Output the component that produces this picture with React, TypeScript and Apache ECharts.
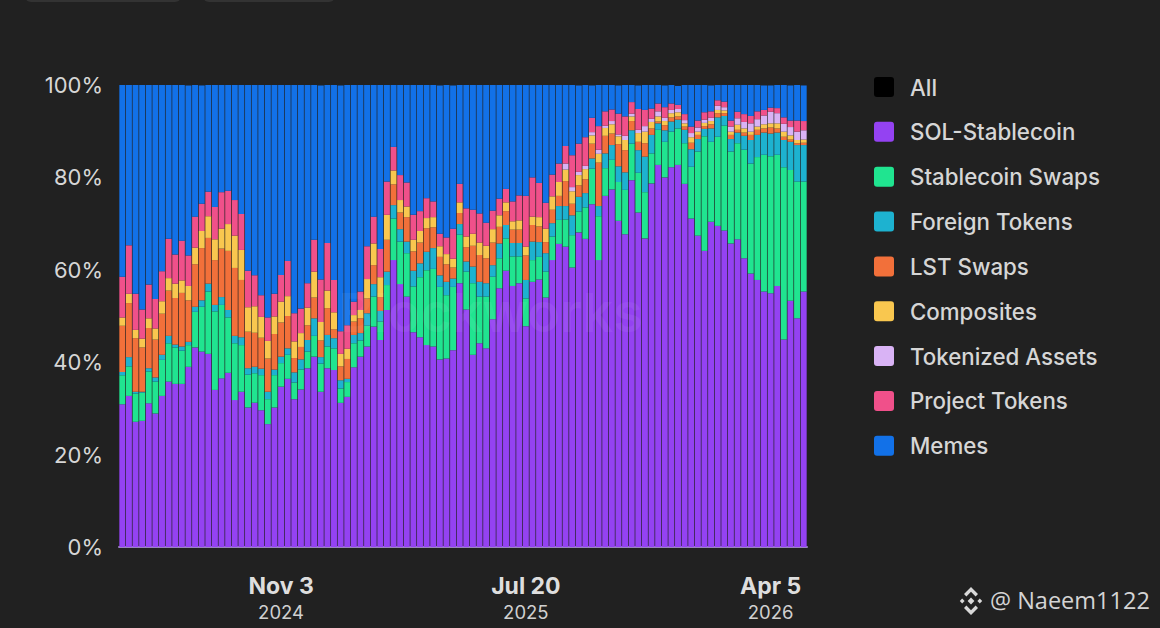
import React, { useEffect, useRef } from "react";
import * as echarts from "echarts";

const seriesNames = ["All", "SOL-Stablecoin", "Stablecoin Swaps", "Foreign Tokens", "LST Swaps", "Composites", "Tokenized Assets", "Project Tokens", "Memes"];
const seriesColors = ["#000000", "#9442F2", "#20E490", "#1DB2D0", "#F2703A", "#F9C74F", "#D9B3F5", "#F0508A", "#1271E8"];

const yTicks = [0, 20, 40, 60, 80, 100];
const tickIndex = [24, 61, 98];
const tickDates = ["Nov 3", "Jul 20", "Apr 5"];
const tickYears = ["2024", "2025", "2026"];

const firstWeek = Date.UTC(2024, 4, 19);
const weekCount = 104;
const categories = Array.from({ length: weekCount }, (_, i) =>
  new Date(firstWeek + i * 7 * 86400000).toISOString().slice(0, 10)
);

const solStablecoin = [30.9,32.7,27.1,27.3,31.1,28.9,32.7,35.8,35.3,35.3,39.0,43.2,42.3,41.8,34.0,36.5,37.7,31.8,33.6,30.2,31.2,29.6,26.6,30.2,34.7,36.4,32.0,34.1,38.7,41.2,33.6,38.7,38.3,31.2,32.5,38.9,41.2,43.4,47.7,44.8,51.3,62.1,56.9,54.2,46.5,45.4,43.7,43.4,40.6,40.8,42.6,57.1,51.4,41.6,44.1,43.0,49.3,56.0,59.8,56.5,57.1,47.8,57.4,57.9,54.0,62.1,65.6,65.0,60.5,68.1,66.7,74.2,62.1,76.0,77.4,70.6,67.7,79.4,72.4,66.8,78.7,82.7,80.0,82.2,82.7,78.6,71.1,67.4,64.1,70.4,69.5,68.5,65.7,66.6,62.5,59.2,57.8,55.3,54.9,56.5,44.9,53.3,49.5,55.3];
const stablecoinSwaps = [6.3,6.4,6.1,6.1,6.9,6.9,7.8,8.3,7.9,7.2,4.7,7.7,9.7,13.5,17.0,15.9,12.0,12.3,10.1,7.1,6.4,7.6,5.4,7.0,5.1,5.2,3.6,4.3,3.6,4.5,6.1,4.7,4.7,3.1,3.2,5.2,3.5,4.5,6.5,4.0,5.4,9.0,9.2,9.4,9.9,13.0,16.2,16.8,15.7,13.7,13.7,10.5,8.2,15.5,10.1,11.2,9.2,6.5,7.0,6.4,5.8,6.0,4.7,4.9,5.6,5.1,5.2,5.9,7.0,4.5,6.8,7.7,9.5,6.0,6.4,8.4,9.6,7.9,8.6,10.0,6.5,7.6,7.7,7.7,7.9,8.8,11.2,18.2,24.8,17.3,19.3,22.7,19.9,20.8,23.5,23.8,26.6,29.6,29.7,28.4,37.3,28.3,29.6,23.8];
const foreignTokens = [0.7,2.0,0.4,0.2,0.7,0.9,1.1,1.6,0.6,0.9,0.7,1.1,1.4,1.7,1.4,1.7,1.6,1.6,1.7,1.4,1.4,1.4,1.6,1.2,1.4,1.4,2.2,2.2,2.5,3.8,1.4,2.5,2.2,1.8,0.7,1.8,1.6,2.7,2.7,2.3,2.9,2.9,2.7,2.5,3.4,3.0,4.0,4.5,2.5,2.9,1.8,2.3,2.2,3.6,3.2,2.9,2.5,3.2,2.9,2.9,2.9,4.0,4.0,3.2,4.0,2.9,3.0,2.9,4.3,3.2,3.1,2.2,2.2,3.2,3.2,3.4,3.8,2.9,4.9,7.7,4.0,1.4,2.5,2.2,1.9,2.9,3.8,2.7,1.6,2.9,4.2,2.1,2.7,2.3,3.0,5.1,4.8,4.8,4.9,4.8,5.9,6.1,7.9,7.9];
const lstSwaps = [10.0,11.7,11.6,9.6,8.7,8.2,8.9,9.8,10.1,11.6,9.0,9.2,11.3,9.9,9.7,10.5,12.8,14.7,12.4,7.9,7.4,6.7,7.2,7.7,7.4,7.0,3.1,2.7,3.2,4.5,3.6,5.8,1.9,3.0,4.3,2.9,3.2,3.2,4.1,3.0,6.9,4.5,3.6,5.3,4.2,4.5,5.1,4.5,4.0,3.8,2.4,2.4,3.1,4.5,5.8,5.4,4.9,3.6,3.0,2.9,2.9,5.3,3.6,3.4,2.4,2.9,2.2,5.4,2.5,2.5,3.0,3.2,9.4,3.8,2.5,4.8,4.8,2.0,1.8,2.9,1.4,0.4,1.1,0.9,0.7,0.7,1.4,0.9,0.6,0.9,0.9,0.6,0.9,0.6,0.7,1.1,1.1,0.9,1.3,0.9,0.7,0.5,0.4,0.5];
const composites = [1.8,2.0,1.8,1.9,2.1,2.4,2.7,2.7,3.1,2.7,3.1,3.6,3.7,4.7,4.5,4.3,5.8,7.0,6.5,5.3,5.7,4.5,3.8,3.8,4.5,4.3,3.6,3.0,3.8,5.6,4.0,3.8,3.7,2.7,2.2,1.4,1.8,4.2,4.7,4.3,5.4,3.0,2.7,2.3,2.5,2.5,2.2,2.2,2.3,2.2,1.9,2.3,2.3,2.6,2.7,2.7,2.9,2.5,1.9,1.8,2.0,1.9,1.8,2.0,2.9,2.9,3.0,2.5,2.7,2.2,2.2,1.8,1.9,1.7,2.0,1.7,2.2,1.0,1.9,2.5,1.4,1.1,0.9,0.9,0.9,0.7,1.2,0.7,0.7,0.7,0.7,0.6,0.7,1.1,0.9,0.7,0.7,0.9,0.9,1.1,1.1,0.9,0.7,0.7];
const tokenizedAssets = [0,0,0,0,0,0,0,0,0,0,0,0,0,0,0,0,0,0,0,0,0,0,0,0,0,0,0,0,0,0,0,0,0,0,0,0,0,0,0,0,0,0,0,0,0,0,0,0,0,0,0,0,0,0,0,0,0,0,0,0,0,0,0,0,0,0,0,1.3,0.9,0.7,0.7,0.7,0.9,0.5,0.7,0.4,0.9,0.6,0.7,1.2,0.7,1.1,0.7,0.7,0.7,0.7,0.9,0.9,0.7,0.7,0.9,0.7,1.1,1.4,1.4,1.8,1.6,1.9,2.5,2.2,1.7,1.8,1.8,2.0];
const projectTokens = [8.8,10.5,7.8,6.3,7.3,6.4,6.5,8.5,6.3,8.6,6.6,6.7,5.9,5.3,7.0,7.9,7.2,7.7,7.8,7.9,6.7,4.7,5.1,4.9,5.8,7.6,6.1,5.3,5.3,6.9,9.2,10.3,7.0,4.9,5.1,2.9,4.0,7.1,5.8,6.1,7.2,5.1,5.4,5.2,5.4,4.3,4.3,3.4,2.7,3.6,6.5,4.0,6.1,5.2,6.3,5.0,4.0,3.6,2.9,4.3,5.4,11.0,8.5,7.4,5.6,4.7,4.0,3.8,6.9,6.1,6.2,3.1,5.1,3.1,2.5,4.5,4.2,2.5,4.5,3.5,2.2,1.7,2.3,1.4,0.9,1.3,1.4,1.5,1.6,1.4,1.2,1.2,1.3,1.4,1.7,1.6,1.7,1.2,0.9,1.1,1.4,1.4,2.4,2.0];
const memes = [41.5,34.8,45.3,48.6,43.3,46.4,40.4,33.4,36.8,33.8,36.8,28.5,25.6,23.2,26.4,23.3,22.9,25.1,27.9,40.2,41.2,45.5,50.3,45.3,41.2,38.1,49.5,48.4,43.0,33.6,42.0,34.3,42.2,53.2,52.0,46.9,44.8,34.9,28.5,35.5,20.9,13.4,19.5,21.2,28.2,27.3,24.6,25.3,32.1,33.0,31.0,21.4,26.7,27.1,27.8,29.8,27.2,24.6,22.5,25.3,24.0,24.0,20.0,21.2,25.6,19.5,17.0,13.2,15.2,12.6,11.3,7.0,9.0,5.8,5.3,6.1,7.0,3.7,5.1,5.4,5.1,4.1,4.7,4.0,4.1,6.3,9.0,7.7,6.0,5.6,3.4,3.7,7.7,5.8,6.3,6.7,5.8,5.3,4.8,5.1,7.0,7.6,7.7,7.7];
const allSeries: number[] = [];

const seriesValues = [allSeries, solStablecoin, stablecoinSwaps, foreignTokens, lstSwaps, composites, tokenizedAssets, projectTokens, memes];

const FONT = "Inter, 'Noto Sans', sans-serif";
const LEGEND_ICON = "path://M3 0H17A3 3 0 0 1 20 3V17A3 3 0 0 1 17 20H3A3 3 0 0 1 0 17V3A3 3 0 0 1 3 0Z";

function logoParts(): number[][][] {
  return [
    [[14, 0], [21, 7], [18.6, 9.4], [14, 4.8], [9.4, 9.4], [7, 7]],
    [[14, 28], [7, 21], [9.4, 18.6], [14, 23.2], [18.6, 18.6], [21, 21]],
    [[14, 10.6], [17.4, 14], [14, 17.4], [10.6, 14]],
    [[5.2, 11.6], [7.6, 14], [5.2, 16.4], [2.8, 14]],
    [[22.8, 11.6], [25.2, 14], [22.8, 16.4], [20.4, 14]],
  ];
}

export default function App() {
  const ref = useRef<HTMLDivElement>(null);
  useEffect(() => {
    document.body.style.margin = "0";
    const chart = echarts.init(ref.current!, undefined, { renderer: "svg" });
    chart.setOption({
      animation: false,
      backgroundColor: "#212121",
      grid: { left: 119, right: 353, top: 85, bottom: 81 },
      legend: {
        orient: "vertical",
        left: 869,
        top: 71,
        itemWidth: 20,
        itemHeight: 20,
        itemGap: 22.85,
        icon: LEGEND_ICON,
        selectedMode: false,
        data: seriesNames,
        textStyle: { color: "#d6d6d6", fontFamily: FONT, fontSize: 22.3, fontWeight: 500, padding: [0, 0, 0, 11] },
      },
      xAxis: {
        type: "category",
        data: categories,
        axisTick: { show: false },
        axisLine: { show: true, lineStyle: { color: "#9a84bd", width: 2 } },
        axisLabel: {
          interval: (i: number) => tickIndex.includes(i),
          margin: 25,
          lineHeight: 27,
          formatter: (_: string, i: number) => {
            const k = tickIndex.indexOf(i);
            return k < 0 ? "" : `{d|${tickDates[k]}}\n{y|${tickYears[k]}}`;
          },
          rich: {
            d: { color: "#dedede", fontFamily: FONT, fontSize: 23, fontWeight: 700, lineHeight: 28 },
            y: { color: "#d0d0d0", fontFamily: FONT, fontSize: 18.5, lineHeight: 24 },
          },
        },
      },
      yAxis: {
        type: "value",
        min: yTicks[0],
        max: yTicks[yTicks.length - 1],
        interval: 20,
        splitLine: { show: false },
        axisLine: { show: false },
        axisTick: { show: false },
        axisLabel: {
          margin: 16,
          color: "#d6d6d6",
          fontFamily: FONT,
          fontSize: 22,
          formatter: (v: number) => `${v}%`,
        },
      },
      series: seriesNames.map((name, i) => ({
        name,
        type: "bar",
        stack: "share",
        barCategoryGap: "10%",
        itemStyle: { color: seriesColors[i] },
        data: seriesValues[i],
      })),
      graphic: [
        { type: "rect", shape: { x: 25, y: -20, width: 156, height: 22, r: 6 }, style: { fill: "#333333" } },
        { type: "rect", shape: { x: 203, y: -20, width: 132, height: 22, r: 6 }, style: { fill: "#333333" } },
        {
          type: "text",
          x: 338,
          y: 285,
          z: 10,
          style: { text: "Blockworks", fill: "rgba(255,255,255,0.06)", font: `600 54px ${FONT}` },
        },
        ...logoParts().map((points) => ({
          type: "polygon",
          x: 957,
          y: 587,
          shape: { points },
          style: { fill: "#d9d9d9" },
        })),
        {
          type: "text",
          x: 990,
          y: 588,
          style: { text: "@ Naeem1122", fill: "#d4d4d4", font: `23.5px 'Open Sans', sans-serif` },
        },
      ],
    });
    return () => chart.dispose();
  }, []);
  return <div ref={ref} style={{ position: "absolute", left: 0, top: 0, width: 1160, height: 628 }} />;
}
